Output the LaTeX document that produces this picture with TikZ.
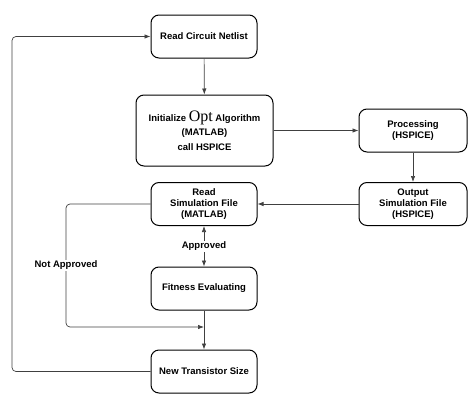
\documentclass[tikz,border=0pt]{standalone}
\usepackage{fontspec}
\setmainfont{Liberation Sans}
\newfontfamily\optfont{Liberation Serif}
\usetikzlibrary{arrows.meta}
\begin{document}
\begin{tikzpicture}[x=1pt,y=-1pt,
        box/.style={draw, line width=1pt, rounded corners=8pt, minimum width=106pt, minimum height=43pt, align=center, inner sep=2pt, font=\bfseries\fontsize{9.5}{10.8}\selectfont},
        line/.style={draw=black!75, line width=0.7pt, -{Latex[length=6pt,width=4.5pt]}},
        lbl/.style={fill=white, inner sep=1pt, font=\bfseries\fontsize{9.5}{10}\selectfont}]
                \useasboundingbox (0,0) rectangle (474,402);
                \node[box] (netlist) at (204,36.5) {Read Circuit Netlist};
                \node[box, minimum width=137pt, minimum height=71pt, font=\bfseries\fontsize{9.5}{14.5}\selectfont] (init) at (204.5,130.5) {Initialize {\mdseries\optfont\fontsize{16}{16}\selectfont Opt} Algorithm\\(MATLAB)\\call HSPICE};
                \node[box, minimum width=108pt] (proc) at (413,130.5) {Processing\\(HSPICE)};
                \node[box] (readsim) at (204,204) {Read\\Simulation File\\(MATLAB)};
                \node[box, minimum width=108pt] (outsim) at (413,204) {Output\\Simulation File\\(HSPICE)};
                \node[box] (fitness) at (204,288.5) {Fitness Evaluating};
                \node[box] (newsize) at (204,371.5) {New Transistor Size};
                \coordinate (join) at (204,327);
                \coordinate (notok) at (66,327);
                \coordinate (back) at (12,371.5);
                \draw[line] (netlist) -- (init);
                \draw[line] (init) -- (proc);
                \draw[line] (proc) -- (outsim);
                \draw[line] (outsim) -- (readsim);
                \draw[line, {Latex[length=6pt,width=4.5pt]}-{Latex[length=6pt,width=4.5pt]}] (readsim) -- node[lbl] {Approved} (fitness);
                \draw[line] (fitness) -- (newsize);
                \draw[line, rounded corners=4pt] (readsim.west) -| node[lbl, pos=0.75] {Not Approved} (notok) -- (join);
                \draw[line, rounded corners=4pt] (newsize.west) -- (back) |- (netlist.west);
\end{tikzpicture}
\end{document}
